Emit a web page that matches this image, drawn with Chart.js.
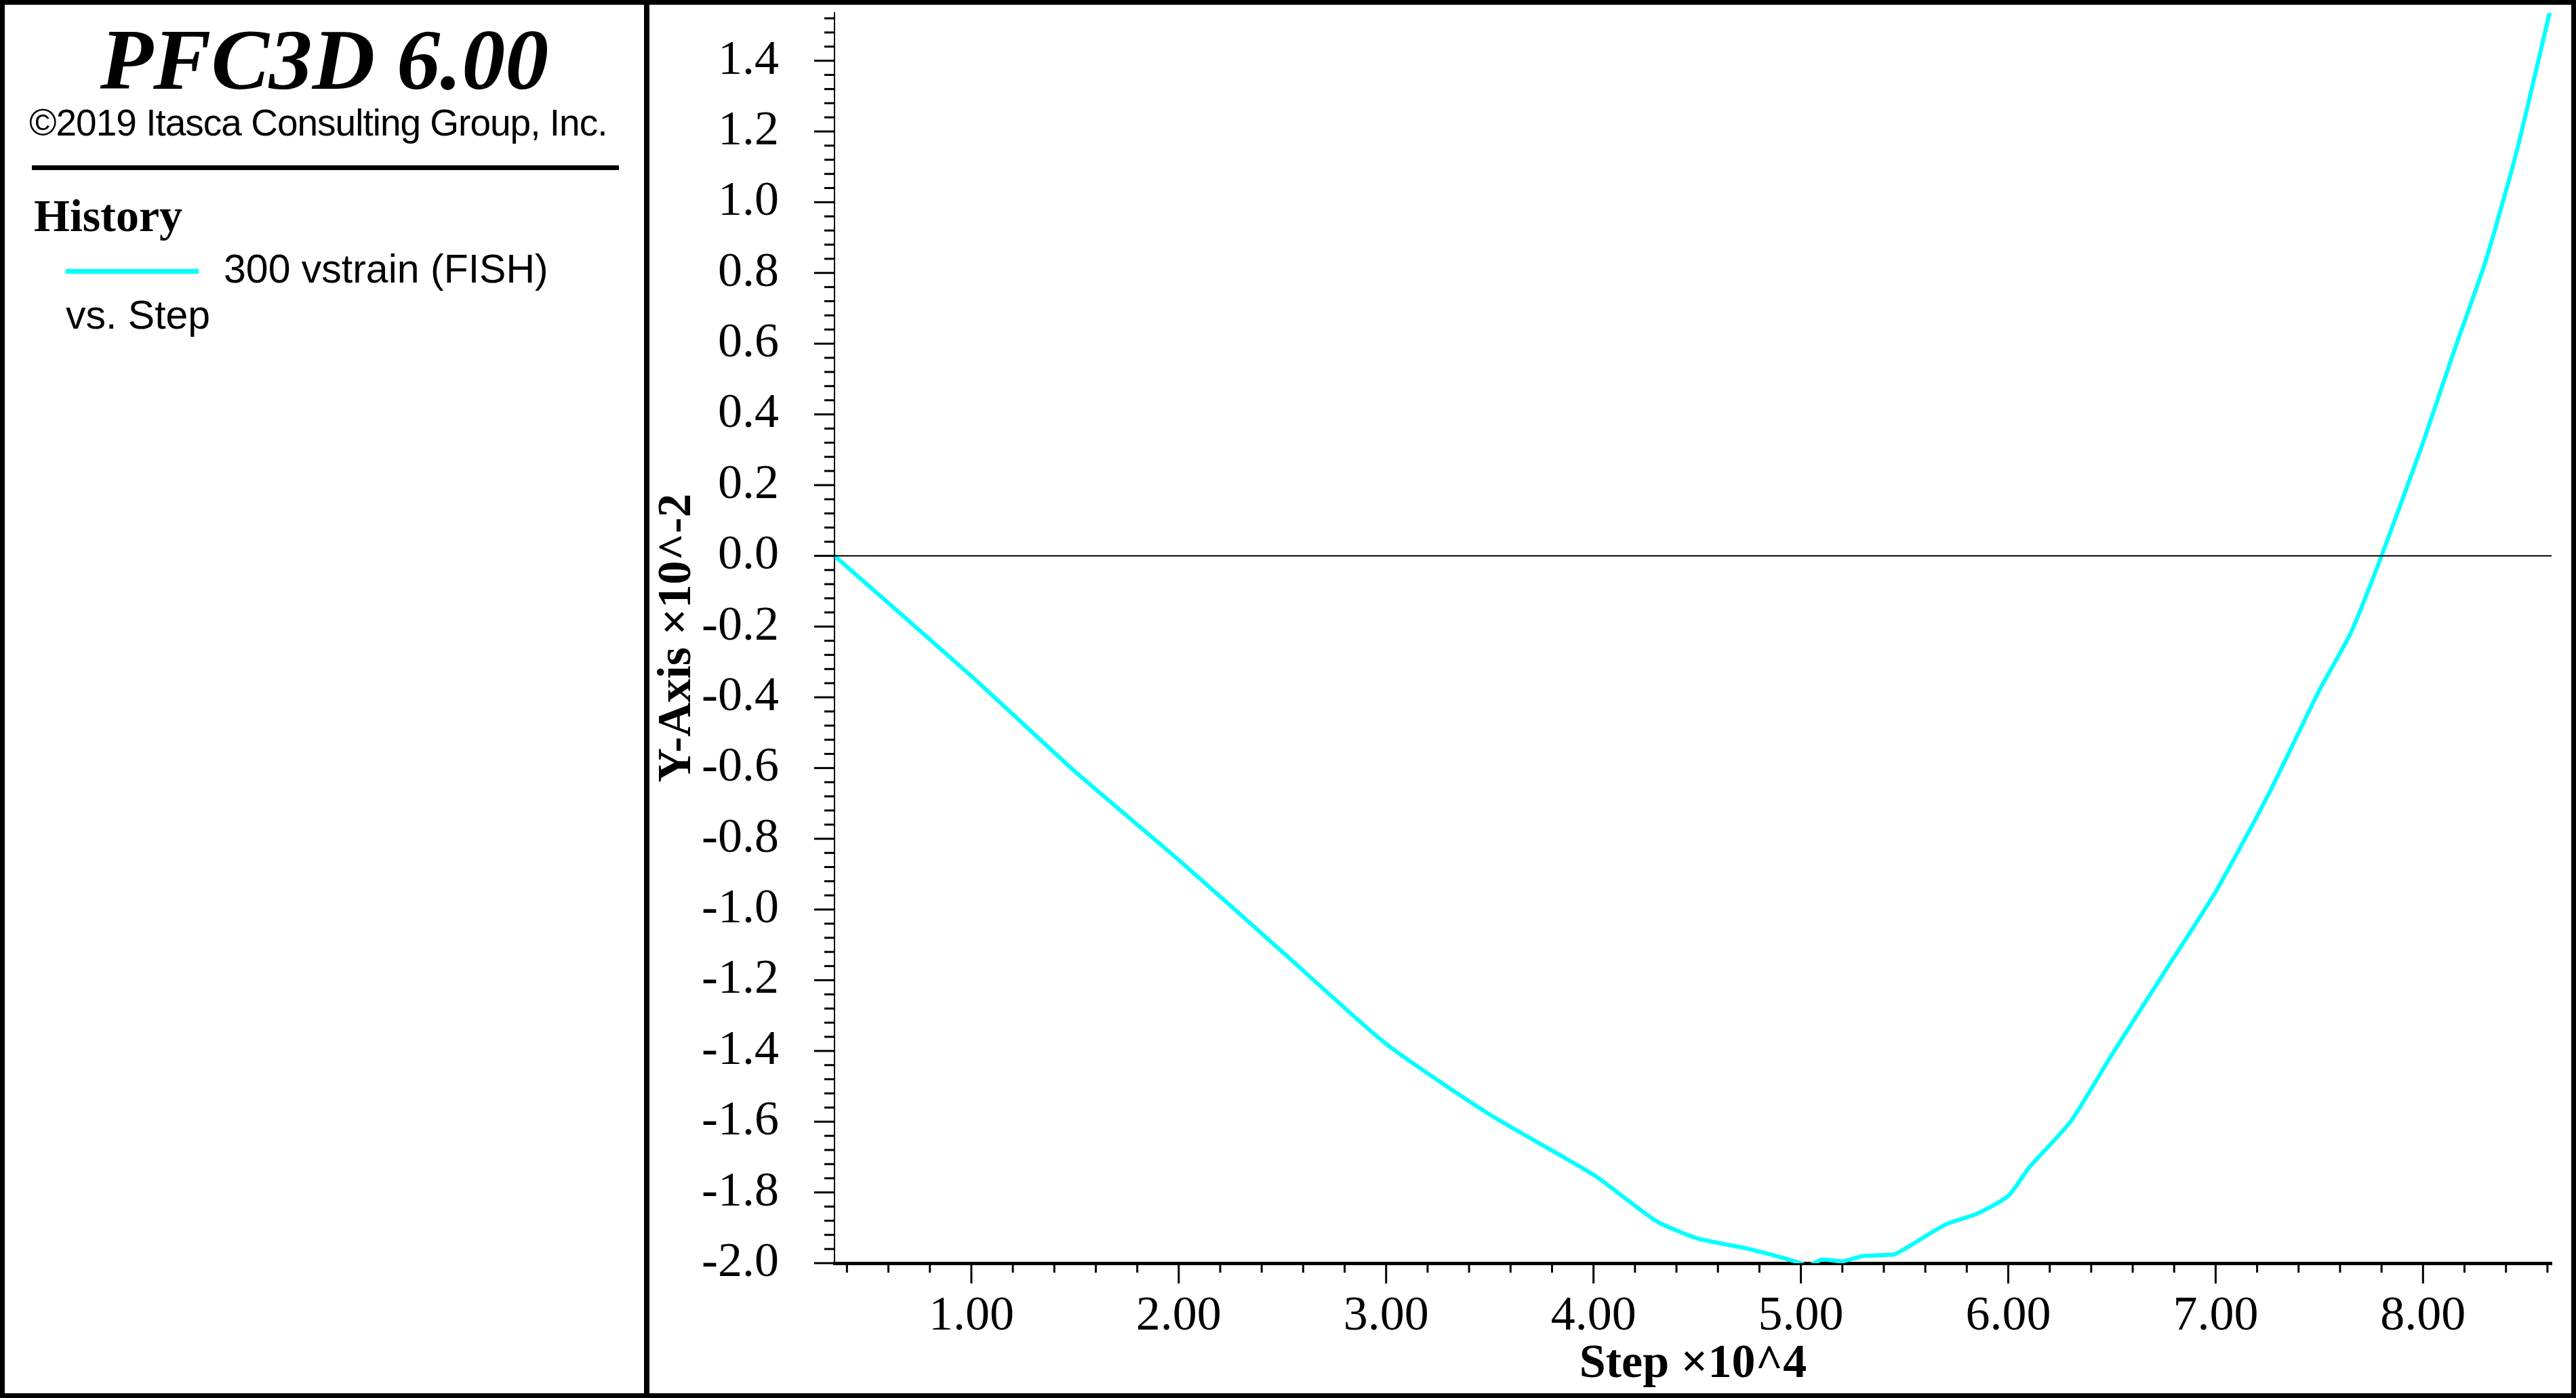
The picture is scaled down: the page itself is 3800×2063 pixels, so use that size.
<!DOCTYPE html>
<html><head><meta charset="utf-8">
<script src="https://cdn.jsdelivr.net/npm/chart.js@4"></script>
<style>
html,body{margin:0;padding:0;background:#fff;}
#page{position:relative;width:3800px;height:2063px;box-sizing:border-box;border:7px solid #000;overflow:hidden;}
#divider{position:absolute;left:943px;top:0;width:8px;height:2063px;background:#000;}
.t{position:absolute;white-space:nowrap;color:#000;}
#wrap{position:absolute;left:951px;top:-113px;width:2842px;height:2162px;}
</style></head><body>
<div id="page">
  <div id="divider"></div>
  <div class="t" style="left:0;width:943px;text-align:center;top:8px;font:italic bold 128px 'Liberation Serif';">PFC3D 6.00</div>
  <div class="t" style="left:36px;top:142px;font:55px 'Liberation Sans';letter-spacing:-1px;">©2019 Itasca Consulting Group, Inc.</div>
  <div style="position:absolute;left:40px;top:237px;width:866px;height:7px;background:#000;"></div>
  <div class="t" style="left:43px;top:272px;font:bold 68px 'Liberation Serif';">History</div>
  <div style="position:absolute;left:90px;top:390px;width:196px;height:7px;background:#00ffff;"></div>
  <div class="t" style="left:323px;top:356px;font:59px 'Liberation Sans';">300 vstrain (FISH)</div>
  <div class="t" style="left:90px;top:424px;font:59px 'Liberation Sans';">vs. Step</div>
  <div id="wrap"><canvas id="c"></canvas></div>
</div>
<script>
// Data (step ×10^4, y ×10^-2)
const steps = [0.34,1.0,1.5,2.0,2.5,3.0,3.5,4.0,4.3,4.5,4.75,5.0,5.03,5.1,5.2,5.3,5.45,5.5,5.7,5.85,6.0,6.1,6.3,6.5,6.75,7.0,7.25,7.5,7.65,7.8,8.0,8.15,8.3,8.45,8.62];
const vstrain = [0.0,-0.34,-0.61,-0.86,-1.12,-1.38,-1.58,-1.75,-1.88,-1.93,-1.96,-2.0,-2.01,-1.99,-1.995,-1.98,-1.975,-1.96,-1.89,-1.86,-1.81,-1.73,-1.60,-1.41,-1.18,-0.95,-0.68,-0.38,-0.22,0.0,0.32,0.58,0.83,1.14,1.56];
const xMajor = [1,2,3,4,5,6,7,8];
const yMajor = [-2.0,-1.8,-1.6,-1.4,-1.2,-1.0,-0.8,-0.6,-0.4,-0.2,0.0,0.2,0.4,0.6,0.8,1.0,1.2,1.4];

const XMIN=0.34, XMAX=8.62, YMIN=-2.0, YMAX=1.535;
const serif = "'Liberation Serif'";

const tickPlugin = {
  id:'tickMarks',
  afterDraw(chart){
    const ctx=chart.ctx, xs=chart.scales.x, ys=chart.scales.y, a=chart.chartArea;
    ctx.save(); ctx.strokeStyle='#000';
    ctx.lineWidth=2; ctx.beginPath();
    const y0=ys.getPixelForValue(0); ctx.moveTo(a.left,y0); ctx.lineTo(a.right,y0); ctx.stroke();
    ctx.lineWidth=3;
    for(let i=-50;i<=38;i++){
      const v=i*0.04; if(v<YMIN-1e-9||v>YMAX) continue;
      const p=ys.getPixelForValue(v); const major = (i%5===0);
      ctx.beginPath(); ctx.moveTo(a.left,p); ctx.lineTo(a.left-(major?30:15),p); ctx.stroke();
    }
    for(let i=0;i<=45;i++){
      const v=i*0.2; if(v<XMIN||v>XMAX) continue;
      const p=xs.getPixelForValue(v); const major=(i%5===0);
      ctx.beginPath(); ctx.moveTo(p,a.bottom); ctx.lineTo(p,a.bottom+(major?30:14)); ctx.stroke();
    }
    ctx.restore();
  }
};

new Chart(document.getElementById('c'),{
  type:'scatter',
  data:{datasets:[{data:steps.map((s,i)=>({x:s,y:vstrain[i]})),showLine:true,borderColor:'#00ffff',borderWidth:6,pointRadius:0,tension:0.2,fill:false}]},
  options:{
    responsive:true, maintainAspectRatio:false, animation:false,
    layout:{padding:{top:15,right:36,left:0,bottom:0}},
    plugins:{legend:{display:false},tooltip:{enabled:false}},
    scales:{
      x:{type:'linear',min:XMIN,max:XMAX,
        afterBuildTicks(s){s.ticks=xMajor.map(v=>({value:v}));},
        afterFit(s){s.height=192;},
        grid:{display:false,drawTicks:false},
        border:{display:true,color:'#000',width:5},
        ticks:{padding:36,color:'#000',font:{family:serif,size:72},callback:v=>Number(v).toFixed(2),maxRotation:0,autoSkip:false},
        title:{display:true,text:'Step ×10^4',color:'#000',font:{family:serif,size:70,weight:'bold'},padding:{top:0,bottom:0}}
      },
      y:{type:'linear',min:YMIN,max:YMAX,
        afterBuildTicks(s){s.ticks=yMajor.map(v=>({value:v}));},
        afterFit(s){s.width=273;},
        grid:{display:false,drawTicks:false},
        border:{display:true,color:'#000',width:2},
        ticks:{padding:82,color:'#000',font:{family:serif,size:72},callback:v=>Number(v).toFixed(1),autoSkip:false},
        title:{display:true,text:'Y-Axis ×10^-2',color:'#000',font:{family:serif,size:70,weight:'bold'},padding:{top:0,bottom:0}}
      }
    }
  },
  plugins:[tickPlugin]
});
</script>
</body></html>
